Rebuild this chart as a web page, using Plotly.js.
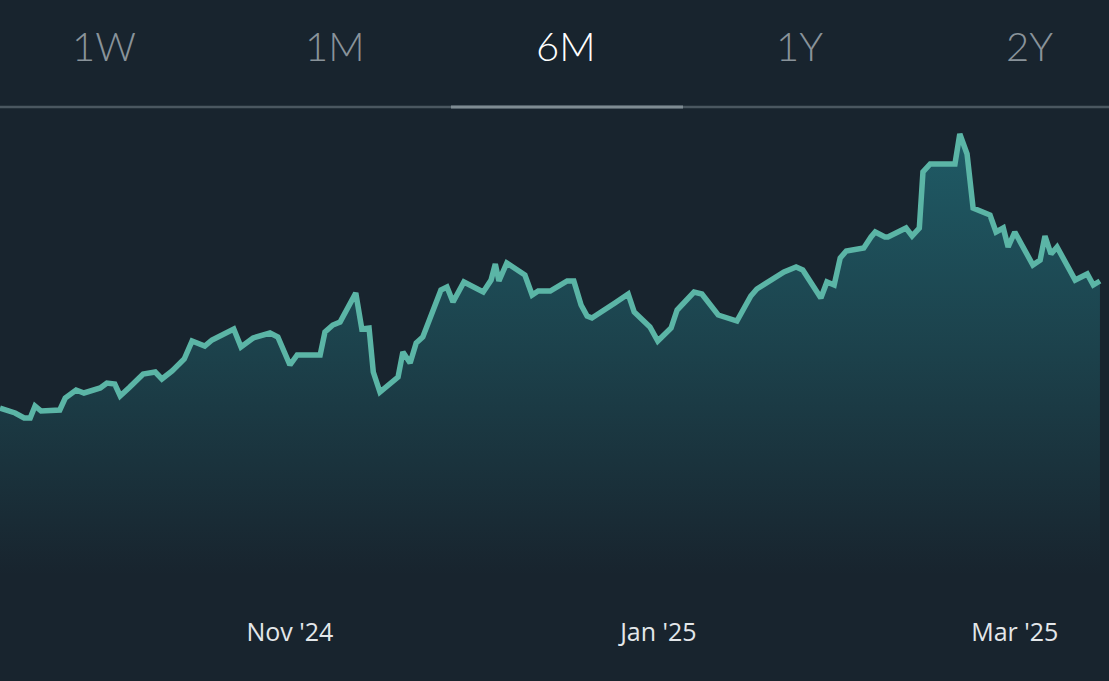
<!DOCTYPE html>
<html>
<head>
<meta charset="utf-8">
<script src="https://cdn.plot.ly/plotly-3.0.1.min.js"></script>
<style>
  html, body { margin: 0; padding: 0; background: #18242e; }
  #chart { width: 1109px; height: 681px; }
</style>
</head>
<body>
<div id="chart"></div>
<script>
// days since the first point
const startDate = Date.UTC(2024, 8, 14);
const days = [0, 2.5, 4, 5, 5.8, 6.8, 9.9, 10.8, 12.6, 13.9, 16.6, 17.7, 19, 19.9, 21.5, 23.7, 25.7, 26.8, 28.5, 30.5,
  31.8, 33.9, 35.1, 38.7, 39.9, 41.9, 44.7, 46, 48, 49.2, 53, 53.8, 55.1, 56.3, 58.9, 59.9, 61.1, 61.8, 62.9, 65.9,
  66.7, 67.9, 68.9, 70, 73, 74, 75, 76.8, 80, 81.3, 82, 82.6, 83.9, 86.9, 88.1, 89.1, 91.1, 93.9, 95, 96.2,
  97.2, 98, 101.8, 104, 105, 107.6, 108.9, 111.1, 112.1, 114.9, 116.2, 118.9, 122, 123.3, 124.3, 125.3, 129.8, 131.8, 132.9, 135.9,
  136.9, 138.1, 139.1, 140.1, 143, 144.2, 144.9, 146.5, 147, 150, 151, 152.2, 152.8, 154, 158.1, 158.9, 160.1, 161.1, 163.9, 164.9,
  166.1, 166.9, 168, 171, 172.2, 173, 174, 175, 178, 180, 181, 182.1];
const values = [167, 162, 157, 157, 169, 164, 165, 177, 185, 182, 187, 192, 191, 179, 188, 201, 203, 196, 204, 216,
  234, 229, 235, 246, 228, 237, 242, 238, 210, 220, 220, 243, 250, 253, 282, 246, 247, 203, 183, 198,
  223, 212, 232, 238, 285, 288, 273, 293, 283, 295, 311, 294, 312, 300, 280, 284, 284, 294, 294, 270,
  259, 257, 272, 281, 263, 248, 234, 247, 265, 283, 281, 260, 254, 268, 279, 286, 303, 308, 305, 277,
  293, 290, 317, 324, 327, 338, 343, 338, 338, 347, 339, 347, 403, 411, 411, 441, 421, 367, 360, 343,
  347, 328, 343, 310, 315, 339, 321, 328, 295, 301, 290, 294];

const tabLabels = ['1W', '1M', '6M', '1Y', '2Y'];
const tabCentres = [104, 335, 566, 799, 1029];
const activeTab = '6M';
const tickDates = ['2024-11-01', '2025-01-01', '2025-03-01'];
const tickLabels = ["Nov '24", "Jan '25", "Mar '25"];

const dates = days.map(d => new Date(startDate + d * 864e5).toISOString().slice(0, 16).replace('T', ' '));

const W = 1109, plotH = 615;

const trace = {
  x: dates, y: values,
  type: 'scatter', mode: 'lines',
  line: { color: '#5bb5a6', width: 5.5, shape: 'linear' },
  fill: 'tozeroy',
  fillgradient: {
    type: 'vertical',
    colorscale: [[0, '#18242e'], [0.5, '#1c414b'], [1, '#1f5b66']]
  },
  hoverinfo: 'skip'
};

const tabAnnotations = tabLabels.map((t, i) => ({
  text: t, xref: 'paper', yref: 'paper',
  x: tabCentres[i] / W, y: 1 - 46 / plotH,
  xanchor: 'center', yanchor: 'middle', showarrow: false,
  font: { family: 'Lato, sans-serif', size: 40, weight: 300, color: t === activeTab ? '#ffffff' : '#89939a' }
}));

const layout = {
  width: W, height: 681,
  margin: { l: 0, r: 0, t: 0, b: 66 },
  paper_bgcolor: '#18242e', plot_bgcolor: '#18242e',
  showlegend: false,
  xaxis: {
    type: 'date', range: ['2024-09-14', '2025-03-16 14:24'],
    tickmode: 'array', tickvals: tickDates, ticktext: tickLabels,
    showgrid: false, zeroline: false, showline: false, ticks: '',
    tickfont: { family: 'Open Sans, sans-serif', size: 25, color: '#e3e7ea' }
  },
  yaxis: { range: [-40, 575], visible: false, fixedrange: true },
  annotations: tabAnnotations,
  shapes: [
    { type: 'line', xref: 'paper', yref: 'paper', x0: 0, x1: 1, y0: 1 - 107 / plotH, y1: 1 - 107 / plotH, line: { color: '#4a5760', width: 2.5 } },
    { type: 'line', xref: 'paper', yref: 'paper', x0: 451 / W, x1: 683 / W, y0: 1 - 107 / plotH, y1: 1 - 107 / plotH, line: { color: '#7f8c93', width: 3 } }
  ]
};

Plotly.newPlot('chart', [trace], layout, { displayModeBar: false, staticPlot: true });
</script>
</body>
</html>
